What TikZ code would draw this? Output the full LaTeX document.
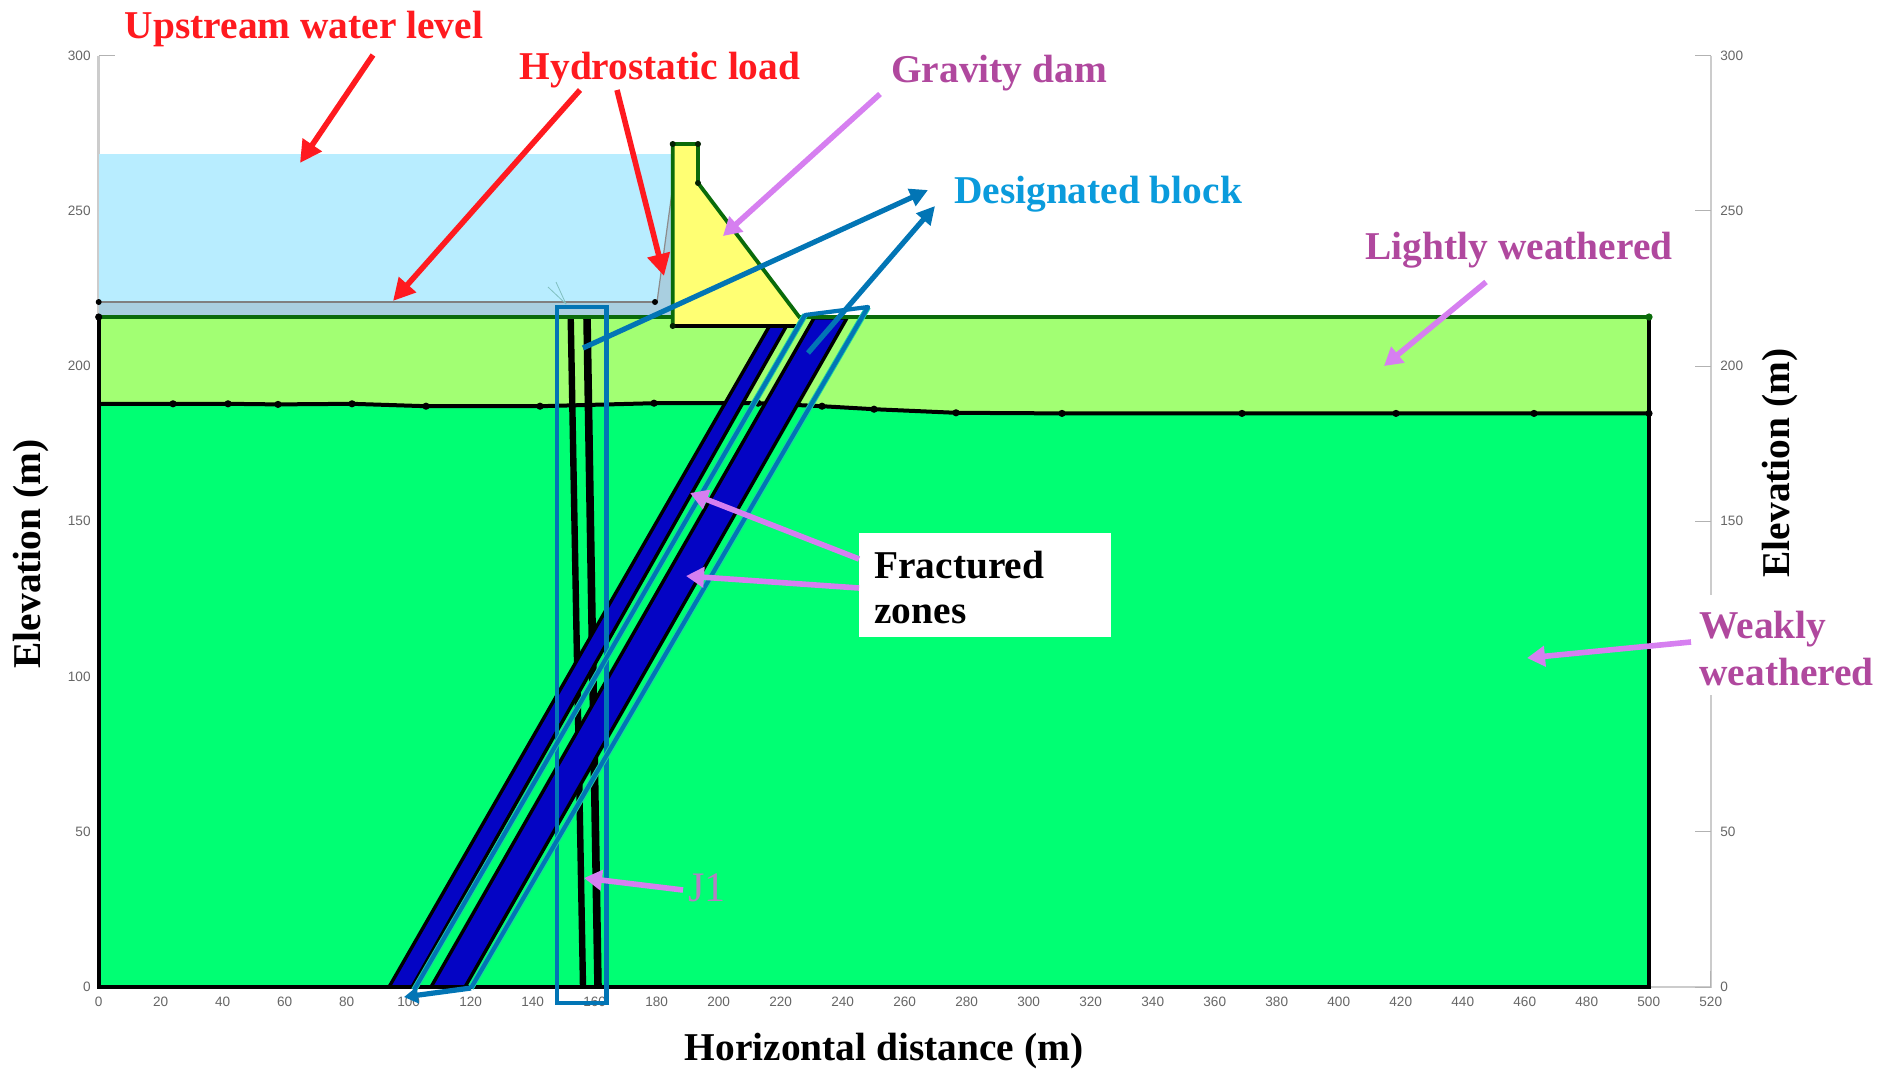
\documentclass[tikz,border=0pt]{standalone}
\usepackage{fontspec}
\setmainfont{Liberation Serif}
\newfontfamily\tickfont{Liberation Sans}
\usetikzlibrary{arrows.meta}
\definecolor{lightrock}{HTML}{A2FF73}
\definecolor{weakrock}{HTML}{00FF73}
\definecolor{waterblue}{HTML}{B8EDFF}
\definecolor{loadgrey}{HTML}{A9CFE0}
\definecolor{damyellow}{HTML}{FFFF73}
\definecolor{zoneblue}{HTML}{0404C4}
\definecolor{blockblue}{HTML}{0275B5}
\definecolor{haloteal}{HTML}{1CCFA8}
\definecolor{labelred}{HTML}{FF1A1F}
\definecolor{labelviolet}{HTML}{B0489E}
\definecolor{labelcyan}{HTML}{0A9BDC}
\definecolor{pointerviolet}{HTML}{D67FF0}
\definecolor{damgreen}{HTML}{0A6B0A}
\tikzset{
  axisline/.style={draw=black!20,line width=1.3pt},
  tickline/.style={draw=black!30,line width=.5pt},
  ticklabel/.style={font=\tickfont\fontsize{6.8}{8}\selectfont,text=black!60,inner sep=0pt},
  bigtext/.style={font=\bfseries\fontsize{19.7}{24}\selectfont,inner sep=0pt},
  redlabel/.style={bigtext,text=labelred},
  violetlabel/.style={bigtext,text=labelviolet},
  redarrow/.style={draw=labelred,line width=2.8pt,-{Triangle[length=11pt,width=11pt]}},
  violetarrow/.style={draw=pointerviolet,line width=2.8pt,-{Triangle[length=9pt,width=10pt]}},
  bluearrow/.style={draw=blockblue,line width=2.6pt,-{Triangle[length=9pt,width=9pt]}},
  blockline/.style={draw=blockblue,line width=2.1pt},
  blockhalo/.style={draw=haloteal,line width=3pt},
  zone/.style={fill=zoneblue,draw=black,line width=1.7pt,line join=round},
  pt/.style={fill=black,circle,inner sep=0pt,minimum size=3.6pt},
}
\begin{document}
\begin{tikzpicture}[x=0.5pt,y=-0.5pt]
\useasboundingbox (0,0) rectangle (1882,1076);
% ---- axes
\draw[axisline] (98.7,55.7) -- (98.7,987) -- (1711,987) -- (1711,55.7);
\foreach \v in {0,50,...,300}{
  \pgfmathsetmacro{\yy}{987-\v*3.105}
  \draw[tickline] (98.7,\yy) -- (114.7,\yy);
  \node[ticklabel,anchor=east] at (91,\yy) {\v};
}
\foreach \v in {0,50,150,200,250,300}{
  \pgfmathsetmacro{\yy}{987-\v*3.105}
  \draw[tickline] (1711,\yy) -- (1695,\yy);
  \node[ticklabel,anchor=west] at (1720,\yy) {\v};
}
\foreach \v in {0,20,...,520}{
  \pgfmathsetmacro{\xx}{98.7+\v*3.10}
  \draw[tickline] (\xx,987) -- (\xx,971);
  \node[ticklabel] at (\xx,1002) {\v};
}
% ---- water
\fill[waterblue] (98.7,154) rectangle (672.7,302);
\fill[loadgrey] (98.7,302) rectangle (672.7,317);
\fill[loadgrey] (672.7,187) -- (657,302) -- (672.7,302) -- cycle;
\draw[draw=black!45,line width=.6pt] (672.7,187) -- (657,302);
\draw[draw=black!50,line width=1.2pt] (98.7,302) -- (657,302);
\node[pt,minimum size=3pt] at (98.7,302) {};
\node[pt,minimum size=3pt] at (655,302) {};
\draw[draw=teal!50,line width=.4pt] (548,287) -- (566,304);
\draw[draw=teal!50,line width=.4pt] (556,282) -- (566,304);
% ---- rock layers
\fill[lightrock] (98.7,317) rectangle (1649,415);
\fill[weakrock] (98.7,404) -- (173,403.8) -- (228,403.8) -- (278,404.4) -- (352,403.8) -- (426,406.2) -- (540,406.2) -- (654,403.2) -- (758,403.2) -- (822,406.2) -- (874,409.2) -- (956,412.8) -- (1062,413.4) -- (1242,413.4) -- (1396,413.4) -- (1534,413.4) -- (1649,413.4) -- (1649,987) -- (98.7,987) -- cycle;
% ---- layer boundary
\draw[black,line width=2pt] (98.7,404) -- (173,403.8) -- (228,403.8) -- (278,404.4) -- (352,403.8) -- (426,406.2) -- (540,406.2) -- (654,403.2) -- (758,403.2) -- (822,406.2) -- (874,409.2) -- (956,412.8) -- (1062,413.4) -- (1242,413.4) -- (1396,413.4) -- (1534,413.4) -- (1649,413.4);
\foreach \px/\py in {173/403.8,228/403.8,278/404.4,352/403.8,426/406.2,540/406.2,654/403.2,758/403.2,822/406.2,874/409.2,956/412.8,1062/413.4,1242/413.4,1396/413.4,1534/413.4,1649/413.4}
  \node[pt] at (\px,\py) {};
% ---- J1 joints
\draw[black,line width=3.2pt] (570.7,317) -- (583,987);
\draw[black,line width=3.8pt] (587,317) -- (598,987);
% ---- fractured zones
\draw[zone] (389,987) -- (770,325) -- (787,325) -- (412,987) -- cycle;
\draw[zone] (431,987) -- (814,318) -- (847,318) -- (465,987) -- cycle;
% ---- outline of the model
\draw[black,line width=2pt] (98.7,317) -- (98.7,987) -- (1649,987) -- (1649,317);
\draw[damgreen,line width=1.8pt] (98.7,317) -- (1649,317);
\node[pt,fill=damgreen] at (1649,317) {};
\node[pt] at (98.7,317) {};
% ---- dam
\fill[damyellow] (672.7,144) -- (698,144) -- (698,183) -- (800,318) -- (800,326) -- (672.7,326) -- cycle;
\draw[black,line width=2pt] (672.7,326) -- (800,326);
\draw[damgreen,line width=1.9pt,line join=round] (672.7,326) -- (672.7,144) -- (698,144) -- (698,183) -- (800,318);
\foreach \px/\py in {672.7/144,698/144,698/183,672.7/326}
  \node[pt,fill=black!70!damgreen,minimum size=3pt] at (\px,\py) {};
% ---- white patch that covers the right axis
\node[fill=white,inner sep=0pt,minimum width=93pt,minimum height=50pt,anchor=north west] (weakbg) at (1696,595) {};
% ---- designated block
\draw[blockline] (557,307) rectangle (606.5,1003);
\coordinate (blockTL) at (805,315);
\coordinate (blockTR) at (868,307);
\coordinate (blockBR) at (471,988);
\coordinate (blockBL) at (404,997);
\coordinate (blockBS) at (414,990);
\draw[blockhalo] (blockBS) -- (blockTL);
\draw[blockhalo] (blockBR) -- (blockTR);
\draw[blockline,line join=round] (blockBS) -- (blockTL) -- (blockTR) -- (blockBR);
\draw[bluearrow,-{Triangle[length=7pt,width=8pt]}] (blockBR) -- (blockBL);
% ---- labels
\node[redlabel] (upstream) at (304,29) {Upstream water level};
\node[redlabel] (hydro) at (660,70) {Hydrostatic load};
\node[violetlabel] (gravity) at (999,73) {Gravity dam};
\node[bigtext,text=labelcyan] (desig) at (1098,194) {Designated block};
\node[violetlabel] (lightly) at (1519,250) {Lightly weathered};
\node[violetlabel,anchor=west] (weak1) at (1699,629) {Weakly};
\node[violetlabel,anchor=west] (weak2) at (1699,672) {weathered};
\node[fill=white,inner sep=0pt,minimum width=126pt,minimum height=52pt,anchor=north west] (fracbox) at (859,533) {};
\node[bigtext,anchor=west,text=black] (frac1) at (874,565) {Fractured};
\node[bigtext,anchor=west,text=black] (frac2) at (874,614) {zones};
\node[font=\fontsize{21}{24}\selectfont,text=pointerviolet!75!black!80,inner sep=0pt] (jlabel) at (707,888) {J1};
\node[bigtext,text=black] (xtitle) at (884,1051) {Horizontal distance (m)};
\node[bigtext,text=black,rotate=90] (ytitleL) at (31,554) {Elevation (m)};
\node[bigtext,text=black,rotate=90] (ytitleR) at (1780,463) {Elevation (m)};
% ---- pointer end points
\coordinate (upS) at (373,55);
\coordinate (upE) at (300,163);
\coordinate (hyS1) at (580,90);
\coordinate (hyE1) at (393,301);
\coordinate (hyS2) at (617,90);
\coordinate (hyE2) at (664,276);
\coordinate (grS) at (880,94);
\coordinate (grE) at (723,236);
\coordinate (liS) at (1486,282);
\coordinate (liE) at (1384,366);
\coordinate (weS) at (1691,642);
\coordinate (weE) at (1527,658);
\coordinate (frS1) at (859,559);
\coordinate (frE1) at (690,493);
\coordinate (frS2) at (859,588);
\coordinate (frE2) at (686,576);
\coordinate (jS) at (683,890);
\coordinate (jE) at (584,878);
\coordinate (dbS1) at (583,348);
\coordinate (dbE1) at (928,190);
\coordinate (dbS2) at (808,353);
\coordinate (dbE2) at (935,206);
% ---- pointers
\draw[redarrow] (upS) -- (upE);
\draw[redarrow] (hyS1) -- (hyE1);
\draw[redarrow] (hyS2) -- (hyE2);
\draw[violetarrow] (grS) -- (grE);
\draw[violetarrow] (liS) -- (liE);
\draw[violetarrow] (weS) -- (weE);
\draw[violetarrow] (frS1) -- (frE1);
\draw[violetarrow] (frS2) -- (frE2);
\draw[violetarrow] (jS) -- (jE);
\draw[bluearrow] (dbS1) -- (dbE1);
\draw[bluearrow] (dbS2) -- (dbE2);
\end{tikzpicture}
\end{document}
